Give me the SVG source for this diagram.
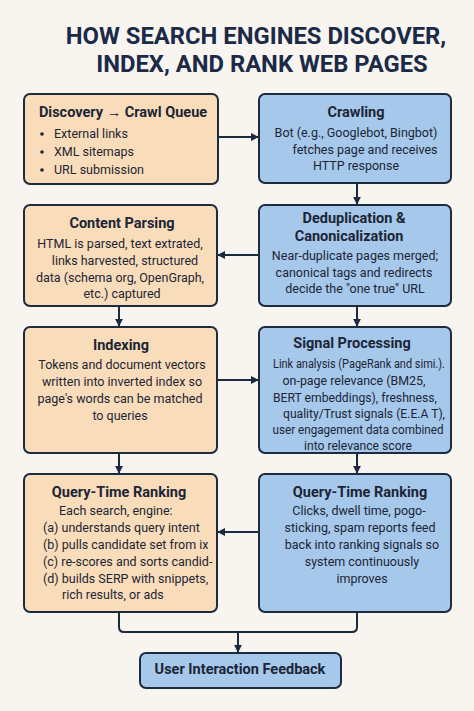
<svg xmlns="http://www.w3.org/2000/svg" width="474" height="711" viewBox="0 0 474 711">
<defs>
<marker id="ah" viewBox="0 0 10 10" refX="9" refY="5" markerWidth="8" markerHeight="8" markerUnits="userSpaceOnUse" orient="auto">
<path d="M0,0 L10,5 L0,10 z" fill="#1c2a40"/>
</marker>
</defs>
<style>
.bg{fill:#f8f5f1}
.peach{fill:#f9dcb9;stroke:#1e2b3f;stroke-width:2}
.blue{fill:#a6c8ea;stroke:#1e2b3f;stroke-width:2}
.title{font-family:Roboto,"Liberation Sans",sans-serif;font-weight:bold;font-size:23.8px;fill:#1a2a47}
.h{font-family:Roboto,"Liberation Sans",sans-serif;font-weight:bold;font-size:14.5px;fill:#1c2536;text-anchor:middle}
.t{font-family:Roboto,"Liberation Sans",sans-serif;font-size:12.5px;fill:#1c2536;text-anchor:middle}
.tl{font-family:Roboto,"Liberation Sans",sans-serif;font-size:12.5px;fill:#1c2536}
.c{fill:none;stroke:#1c2a40;stroke-width:2}
</style>
<rect class="bg" x="0" y="0" width="474" height="711"/>
<g id="title">
<text class="title" x="256" y="44" text-anchor="middle">HOW SEARCH ENGINES DISCOVER,</text>
<text class="title" x="262" y="72" text-anchor="middle">INDEX, AND RANK WEB PAGES</text>
</g>
<g id="connectors">
<line class="c" x1="218" y1="137" x2="258" y2="137" marker-end="url(#ah)"/>
<line class="c" x1="357" y1="183" x2="357" y2="204" marker-end="url(#ah)"/>
<line class="c" x1="259" y1="255" x2="218" y2="255" marker-end="url(#ah)"/>
<line class="c" x1="119" y1="306" x2="119" y2="326" marker-end="url(#ah)"/>
<line class="c" x1="357" y1="306" x2="357" y2="326" marker-end="url(#ah)"/>
<line class="c" x1="217" y1="380" x2="258" y2="380" marker-end="url(#ah)"/>
<line class="c" x1="119" y1="453" x2="119" y2="473" marker-end="url(#ah)"/>
<line class="c" x1="357" y1="453" x2="357" y2="473" marker-end="url(#ah)"/>
<line class="c" x1="259" y1="532" x2="218" y2="532" marker-end="url(#ah)"/>
<path class="c" d="M119,612 V627 Q119,632 124,632 H352 Q357,632 357,627 V612"/>
<line class="c" x1="238" y1="632" x2="238" y2="652" marker-end="url(#ah)"/>
</g>
<g id="discovery">
<rect class="peach" x="24" y="94" width="194" height="90" rx="6"/>
<text class="h" x="123" y="117">Discovery → Crawl Queue</text>
<circle cx="42" cy="134" r="1.8" fill="#1c2536"/>
<circle cx="42" cy="152" r="1.8" fill="#1c2536"/>
<circle cx="42" cy="170" r="1.8" fill="#1c2536"/>
<text class="tl" x="54" y="138">External links</text>
<text class="tl" x="54" y="156">XML sitemaps</text>
<text class="tl" x="54" y="174">URL submission</text>
</g>
<g id="crawling">
<rect class="blue" x="259" y="94" width="192" height="89" rx="6"/>
<text class="h" x="356" y="117">Crawling</text>
<text class="t" x="356" y="137">Bot (e.g., Googlebot, Bingbot)</text>
<text class="t" x="365" y="154">fetches page and receives</text>
<text class="t" x="356" y="170">HTTP response</text>
</g>
<g id="parsing">
<rect class="peach" x="24" y="205" width="193" height="101" rx="6"/>
<text class="h" x="122" y="228">Content Parsing</text>
<text class="t" x="120" y="248">HTML is parsed, text extrated,</text>
<text class="t" x="125" y="265">links harvested, structured</text>
<text class="t" x="120" y="282">data (schema org, OpenGraph,</text>
<text class="t" x="122" y="298">etc.) captured</text>
</g>
<g id="dedup">
<rect class="blue" x="259" y="205" width="192" height="101" rx="6"/>
<text class="h" x="354" y="223">Deduplication &amp;</text>
<text class="h" x="349" y="241">Canonicalization</text>
<text class="t" x="355" y="260">Near-duplicate pages merged;</text>
<text class="t" x="354" y="277">canonical tags and redirects</text>
<text class="t" x="355" y="293">decide the "one true" URL</text>
</g>
<g id="indexing">
<rect class="peach" x="24" y="327" width="193" height="126" rx="6"/>
<text class="h" x="121" y="350">Indexing</text>
<text class="t" x="122" y="369">Tokens and document vectors</text>
<text class="t" x="122" y="386">written into inverted index so</text>
<text class="t" x="120" y="403">page's words can be matched</text>
<text class="t" x="120" y="420">to queries</text>
</g>
<g id="signal">
<rect class="blue" x="259" y="327" width="192" height="126" rx="6"/>
<text class="h" x="352" y="348">Signal Processing</text>
<text class="t" x="359" y="368" textLength="172" lengthAdjust="spacingAndGlyphs">Link analysis (PageRank and simi.).</text>
<text class="t" x="354" y="385" textLength="143" lengthAdjust="spacingAndGlyphs">on-page relevance (BM25,</text>
<text class="t" x="355" y="402" textLength="164" lengthAdjust="spacingAndGlyphs">BERT embeddings), freshness,</text>
<text class="t" x="364" y="418" textLength="162" lengthAdjust="spacingAndGlyphs">quality/Trust signals (E.E.A T),</text>
<text class="t" x="358" y="434" textLength="171" lengthAdjust="spacingAndGlyphs">user engagement data combined</text>
<text class="t" x="358" y="450" textLength="108" lengthAdjust="spacingAndGlyphs">into relevance score</text>
</g>
<g id="query-left">
<rect class="peach" x="24" y="474" width="193" height="138" rx="6"/>
<text class="h" x="119" y="497">Query-Time Ranking</text>
<text class="tl" x="59" y="515">Each search, engine:</text>
<text class="tl" x="43" y="532">(a) understands query intent</text>
<text class="tl" x="43" y="549">(b) pulls candidate set from ix</text>
<text class="tl" x="43" y="566">(c) re-scores and sorts candid-</text>
<text class="tl" x="43" y="583">(d) builds SERP with snippets,</text>
<text class="tl" x="62" y="599">rich results, or ads</text>
</g>
<g id="query-right">
<rect class="blue" x="259" y="474" width="192" height="138" rx="6"/>
<text class="h" x="360" y="497">Query-Time Ranking</text>
<text class="t" x="359" y="515">Clicks, dwell time, pogo-</text>
<text class="t" x="360" y="532">sticking, spam reports feed</text>
<text class="t" x="362" y="549">back into ranking signals so</text>
<text class="t" x="362" y="566">system continuously</text>
<text class="t" x="362" y="583">improves</text>
</g>
<g id="feedback">
<rect class="blue" x="140" y="653" width="201" height="35" rx="6"/>
<text class="h" x="240" y="674">User Interaction Feedback</text>
</g>
</svg>
